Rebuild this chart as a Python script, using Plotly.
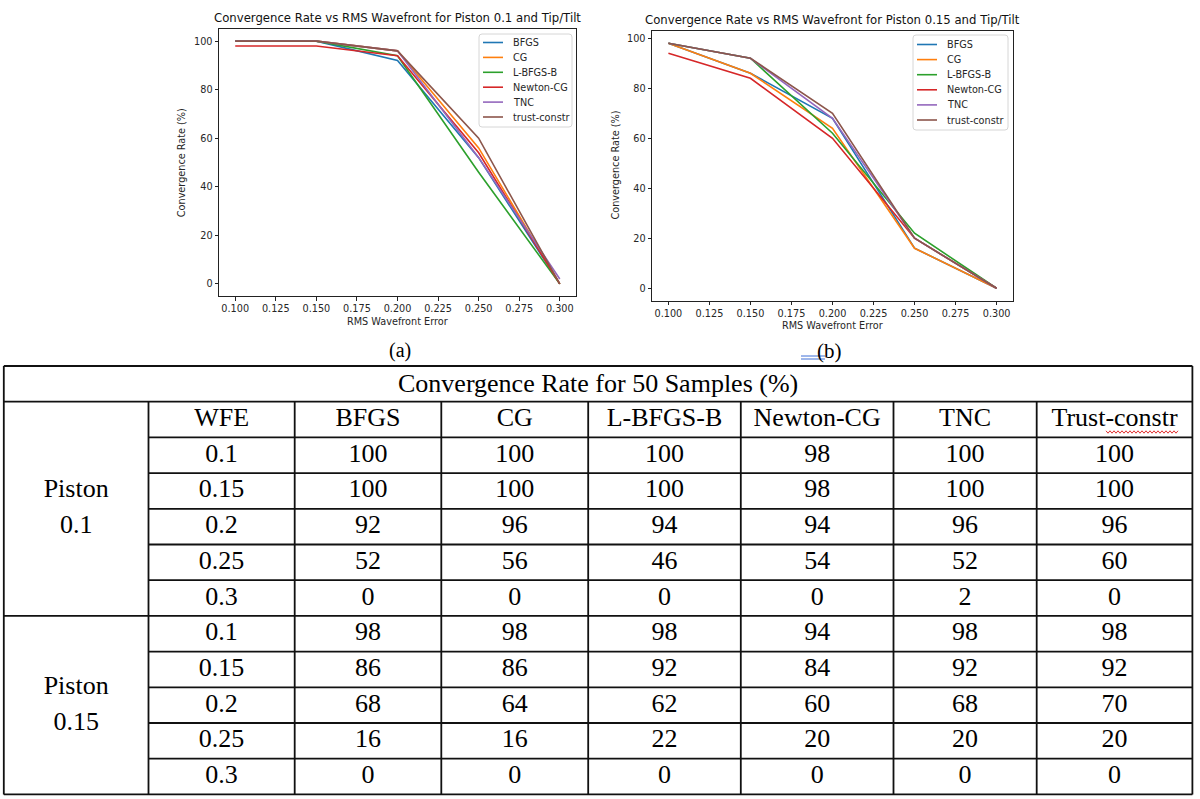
import plotly.graph_objects as go

# ---------------- data ----------------
wfe = [0.1, 0.15, 0.2, 0.25, 0.3]
wfe_labels = ["0.1", "0.15", "0.2", "0.25", "0.3"]
x_ticks = [0.100, 0.125, 0.150, 0.175, 0.200, 0.225, 0.250, 0.275, 0.300]
y_ticks = [0, 20, 40, 60, 80, 100]

methods = ["BFGS", "CG", "L-BFGS-B", "Newton-CG", "TNC", "trust-constr"]
table_methods = ["BFGS", "CG", "L-BFGS-B", "Newton-CG", "TNC", "Trust-constr"]
colors = ["#1f77b4", "#ff7f0e", "#2ca02c", "#d62728", "#9467bd", "#8c564b"]

# Piston 0.1
p01_bfgs = [100, 100, 92, 52, 0]
p01_cg = [100, 100, 96, 56, 0]
p01_lbfgsb = [100, 100, 94, 46, 0]
p01_newton = [98, 98, 94, 54, 0]
p01_tnc = [100, 100, 96, 52, 2]
p01_trust = [100, 100, 96, 60, 0]

# Piston 0.15
p015_bfgs = [98, 86, 68, 16, 0]
p015_cg = [98, 86, 64, 16, 0]
p015_lbfgsb = [98, 92, 62, 22, 0]
p015_newton = [94, 84, 60, 20, 0]
p015_tnc = [98, 92, 68, 20, 0]
p015_trust = [98, 92, 70, 20, 0]

piston01 = [p01_bfgs, p01_cg, p01_lbfgsb, p01_newton, p01_tnc, p01_trust]
piston015 = [p015_bfgs, p015_cg, p015_lbfgsb, p015_newton, p015_tnc, p015_trust]
piston_names = ["0.1", "0.15"]

title_a = "Convergence Rate vs RMS Wavefront for Piston 0.1 and Tip/Tilt"
title_b = "Convergence Rate vs RMS Wavefront for Piston 0.15 and Tip/Tilt"
table_title = "Convergence Rate for 50 Samples (%)"

# ---------------- layout helpers ----------------
W, H = 1200, 799
def px(x):
    return x / W
def py(y):
    return 1 - y / H

SANS = "DejaVu Sans"
SERIF = "Liberation Serif, Times New Roman, serif"
TXT = "#262626"
TICK = dict(family=SANS, size=9.7, color=TXT)

fig = go.Figure()

for i, name in enumerate(methods):
    fig.add_trace(go.Scatter(x=wfe, y=piston01[i], mode="lines", name=name,
                             line=dict(color=colors[i], width=1.6),
                             xaxis="x", yaxis="y", showlegend=False,
                             hoverinfo="skip"))
for i, name in enumerate(methods):
    fig.add_trace(go.Scatter(x=wfe, y=piston015[i], mode="lines", name=name,
                             line=dict(color=colors[i], width=1.6),
                             xaxis="x2", yaxis="y2", showlegend=False,
                             hoverinfo="skip"))

axis_common = dict(showline=True, mirror=True, linecolor="#222", linewidth=1,
                   ticks="outside", ticklen=3.5, tickwidth=1, tickcolor="#222",
                   showgrid=False, zeroline=False, tickfont=TICK, fixedrange=True)

shapes = []
annotations = []

# ---------------- legends (matplotlib style boxes) ----------------
def add_legend(left, top, right, first_y, step):
    bottom = first_y + step * (len(methods) - 1) + 10
    r = 3
    path = (f"M {px(left + r)},{py(top)} L {px(right - r)},{py(top)} "
            f"Q {px(right)},{py(top)} {px(right)},{py(top + r)} "
            f"L {px(right)},{py(bottom - r)} Q {px(right)},{py(bottom)} {px(right - r)},{py(bottom)} "
            f"L {px(left + r)},{py(bottom)} Q {px(left)},{py(bottom)} {px(left)},{py(bottom - r)} "
            f"L {px(left)},{py(top + r)} Q {px(left)},{py(top)} {px(left + r)},{py(top)} Z")
    shapes.append(dict(type="path", xref="paper", yref="paper", path=path,
                       fillcolor="rgba(255,255,255,0.8)", line=dict(color="#d6d6d6", width=1),
                       layer="above"))
    for i, name in enumerate(methods):
        yy = first_y + i * step
        shapes.append(dict(type="line", xref="paper", yref="paper",
                           x0=px(left + 4), x1=px(left + 24), y0=py(yy), y1=py(yy),
                           line=dict(color=colors[i], width=1.6), layer="above"))
        annotations.append(dict(text=name, x=px(left + 32), y=py(yy), xref="paper", yref="paper",
                                xanchor="left", yanchor="middle", showarrow=False,
                                font=dict(family=SANS, size=9.7, color=TXT)))

add_legend(479, 34, 572, 42.5, 14.9)
add_legend(913, 35, 1008, 44.5, 15.1)

# ---------------- table geometry (layout constants) ----------------
col_x = [3.8, 148.5, 294.7, 441.3, 588.2, 740.8, 893.5, 1036.7, 1192.4]
row_top = 366.0
row_h = 35.7
n_rows = 2 + len(wfe_labels) * len(piston_names)
row_y = [row_top + k * row_h for k in range(n_rows + 1)]
T_FONT = 26

line_style = dict(color="#111", width=1.8)
def hline(x0, x1, y):
    shapes.append(dict(type="line", xref="x3", yref="y3", x0=x0, x1=x1, y0=y, y1=y, line=line_style))
def vline(x, y0, y1):
    shapes.append(dict(type="line", xref="x3", yref="y3", x0=x, x1=x, y0=y0, y1=y1, line=line_style))

block = len(wfe_labels)
for k, y in enumerate(row_y):
    if k in (0, 1, n_rows) or k == 2 + block:
        hline(col_x[0], col_x[-1], y)
    else:
        hline(col_x[1], col_x[-1], y)
vline(col_x[0], row_y[0], row_y[-1])
vline(col_x[-1], row_y[0], row_y[-1])
for x in col_x[1:-1]:
    vline(x, row_y[1], row_y[-1])

# table text
tx, ty, tt = [], [], []
centers = [(col_x[j] + col_x[j + 1]) / 2 for j in range(len(col_x) - 1)]
def rc(k):
    return (row_y[k] + row_y[k + 1]) / 2
header = ["WFE"] + table_methods
for j, h in enumerate(header):
    tx.append(centers[j + 1]); ty.append(rc(1)); tt.append(h)
for b, data in enumerate([piston01, piston015]):
    for r in range(block):
        k = 2 + b * block + r
        tx.append(centers[1]); ty.append(rc(k)); tt.append(wfe_labels[r])
        for m in range(len(table_methods)):
            tx.append(centers[m + 2]); ty.append(rc(k)); tt.append(str(data[m][r]))
# merged piston cells
blocks = [(1, 2 + block), (2 + block, 2 + 2 * block)]
for b, (k0, k1) in enumerate(blocks):
    mid = (row_y[k0] + row_y[k1]) / 2
    tx += [centers[0], centers[0]]
    ty += [mid - row_h / 2, mid + row_h / 2]
    tt += ["Piston", piston_names[b]]

fig.add_trace(go.Scatter(x=tx, y=ty, text=tt, mode="text", xaxis="x3", yaxis="y3",
                         textfont=dict(family=SERIF, size=T_FONT, color="black"),
                         showlegend=False, hoverinfo="skip"))

# red spell-check squiggle under "constr"
sq_x0, sq_x1, sq_y = 1106, 1178, 432
pts = []
xv = sq_x0
up = True
while xv <= sq_x1:
    pts.append(f"{xv:.1f},{sq_y - 1.2 if up else sq_y + 1.2:.1f}")
    xv += 2.0
    up = not up
shapes.append(dict(type="path", xref="x3", yref="y3", path="M" + " L".join(pts),
                   line=dict(color="#e03030", width=1)))

# blue double underline near (b)
for yy in (356, 359):
    shapes.append(dict(type="line", xref="x3", yref="y3", x0=801, x1=825, y0=yy, y1=yy,
                       line=dict(color="#3f6fd6", width=1)))

def ann(text, x, y, size, family=SANS, color=TXT, angle=0, xref="paper", yref="paper"):
    annotations.append(dict(text=text, x=x, y=y, xref=xref, yref=yref, showarrow=False,
                            xanchor="center", yanchor="middle", textangle=angle,
                            font=dict(family=family, size=size, color=color)))

ann(table_title, (col_x[0] + col_x[-1]) / 2, rc(0), T_FONT, SERIF, "black", xref="x3", yref="y3")
ann(title_a, px(397.5), py(18.3), 11.7, color="#111")
ann(title_b, px(832.5), py(20), 11.7, color="#111")
ann("RMS Wavefront Error", px(397.5), py(321.7), 9.7)
ann("RMS Wavefront Error", px(832.5), py(325.5), 9.7)
ann("Convergence Rate (%)", px(181.7), py(162.5), 9.7, angle=-90)
ann("Convergence Rate (%)", px(615), py(165.5), 9.7, angle=-90)
ann("(a)", px(400), py(350.5), 20, SERIF, "black")
ann("(b)", px(829.5), py(350.5), 21, SERIF, "black")

fig.update_layout(
    width=W, height=H, autosize=False,
    margin=dict(l=0, r=0, t=0, b=0),
    paper_bgcolor="white", plot_bgcolor="rgba(0,0,0,0)",
    showlegend=False,
    xaxis=dict(domain=[px(219), px(576)], range=[0.09, 0.31], tickvals=x_ticks,
               tickformat=".3f", anchor="y", **axis_common),
    yaxis=dict(domain=[py(296), py(29)], range=[-5, 105], tickvals=y_ticks,
               anchor="x", **axis_common),
    xaxis2=dict(domain=[px(652), px(1013)], range=[0.09, 0.31], tickvals=x_ticks,
                tickformat=".3f", anchor="y2", **axis_common),
    yaxis2=dict(domain=[py(300.5), py(31)], range=[-4.9, 102.9], tickvals=y_ticks,
                anchor="x2", **axis_common),
    xaxis3=dict(domain=[0, 1], range=[0, W], visible=False, fixedrange=True, anchor="y3"),
    yaxis3=dict(domain=[0, 1], range=[H, 0], visible=False, fixedrange=True, anchor="x3"),
    shapes=shapes,
    annotations=annotations,
)

fig.write_html("out.html")
